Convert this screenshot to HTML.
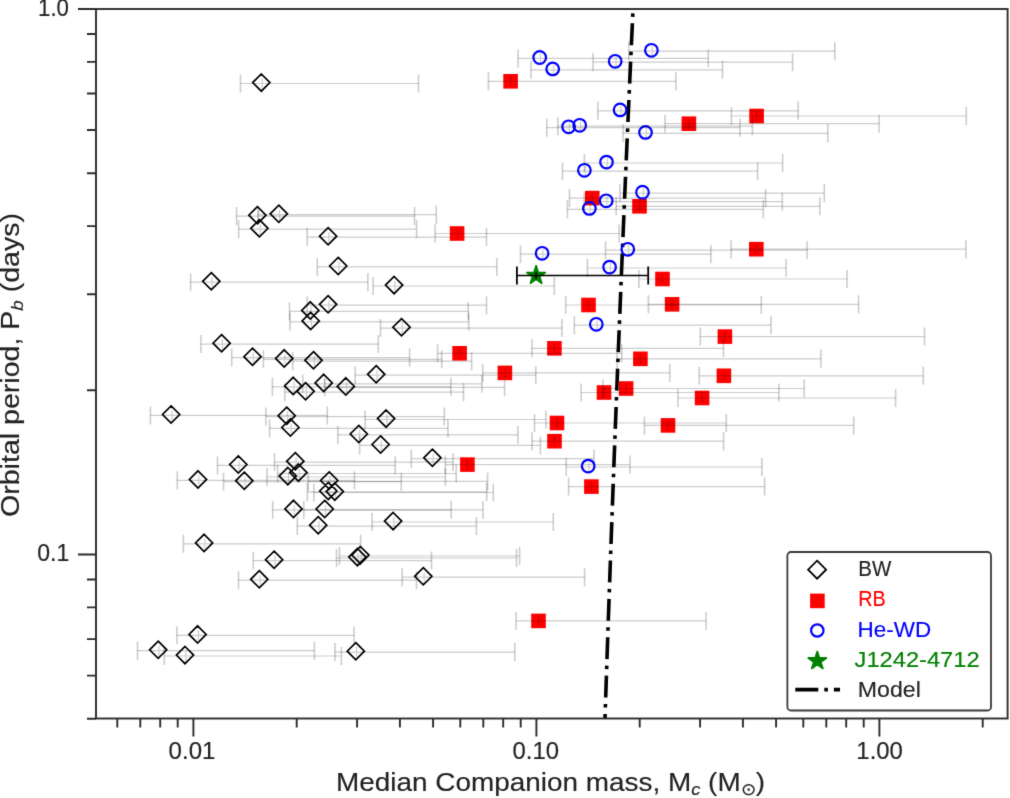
<!DOCTYPE html>
<html><head><meta charset="utf-8"><style>
html,body{margin:0;padding:0;background:#fff;}
body{width:1010px;height:798px;overflow:hidden;font-family:"Liberation Sans", sans-serif;}
svg{display:block;}
</style></head><body>
<svg width="1010" height="798" viewBox="0 0 1010 798"><defs><filter id="bl" color-interpolation-filters="sRGB" x="0" y="0" width="1010" height="798" filterUnits="userSpaceOnUse"><feConvolveMatrix order="3" kernelMatrix="0.01134 0.08382 0.01134 0.08382 0.61935 0.08382 0.01134 0.08382 0.01134" edgeMode="duplicate" preserveAlpha="true"/></filter></defs><g filter="url(#bl)"><rect width="1010" height="798" fill="#fff"/><defs><clipPath id="ax"><rect x="96.0" y="9.0" width="911.6" height="709.5"/></clipPath></defs><g clip-path="url(#ax)"><path d="M633.04 9 Q616.6 363.75 605.0 718.5" fill="none" stroke="#000" stroke-width="3.6" stroke-dasharray="22.0 6.4 3.6 6.4" stroke-dashoffset="24.1"/><path d="M261.3 74.0L269.9 82.6L261.3 91.2L252.7 82.6ZM257.4 206.6L266.0 215.2L257.4 223.8L248.8 215.2ZM278.8 205.2L287.4 213.8L278.8 222.4L270.2 213.8ZM259.4 219.7L268.0 228.3L259.4 236.9L250.8 228.3ZM328.1 227.6L336.7 236.2L328.1 244.8L319.5 236.2ZM338.2 257.4L346.8 266.0L338.2 274.6L329.6 266.0ZM211.3 272.7L219.9 281.3L211.3 289.9L202.7 281.3ZM394.1 276.5L402.7 285.1L394.1 293.7L385.5 285.1ZM328.1 295.7L336.7 304.3L328.1 312.9L319.5 304.3ZM310.3 301.8L318.9 310.4L310.3 319.0L301.7 310.4ZM310.7 312.3L319.3 320.9L310.7 329.5L302.1 320.9ZM401.5 318.6L410.1 327.2L401.5 335.8L392.9 327.2ZM221.6 334.6L230.2 343.2L221.6 351.8L213.0 343.2ZM252.5 348.1L261.1 356.7L252.5 365.3L243.9 356.7ZM284.2 349.8L292.8 358.4L284.2 367.0L275.6 358.4ZM313.5 351.7L322.1 360.3L313.5 368.9L304.9 360.3ZM376.2 365.7L384.8 374.3L376.2 382.9L367.6 374.3ZM323.7 374.3L332.3 382.9L323.7 391.5L315.1 382.9ZM293.2 377.3L301.8 385.9L293.2 394.5L284.6 385.9ZM345.8 377.8L354.4 386.4L345.8 395.0L337.2 386.4ZM305.6 382.7L314.2 391.3L305.6 399.9L297.0 391.3ZM171.1 405.9L179.7 414.5L171.1 423.1L162.5 414.5ZM286.7 407.1L295.3 415.7L286.7 424.3L278.1 415.7ZM386.1 410.0L394.7 418.6L386.1 427.2L377.5 418.6ZM290.4 418.9L299.0 427.5L290.4 436.1L281.8 427.5ZM358.8 425.4L367.4 434.0L358.8 442.6L350.2 434.0ZM380.6 435.9L389.2 444.5L380.6 453.1L372.0 444.5ZM432.4 449.2L441.0 457.8L432.4 466.4L423.8 457.8ZM238.3 455.9L246.9 464.5L238.3 473.1L229.7 464.5ZM295.3 452.6L303.9 461.2L295.3 469.8L286.7 461.2ZM298.4 464.0L307.0 472.6L298.4 481.2L289.8 472.6ZM287.8 467.5L296.4 476.1L287.8 484.7L279.2 476.1ZM198.0 470.8L206.6 479.4L198.0 488.0L189.4 479.4ZM244.3 472.2L252.9 480.8L244.3 489.4L235.7 480.8ZM329.2 471.9L337.8 480.5L329.2 489.1L320.6 480.5ZM328.3 482.4L336.9 491.0L328.3 499.6L319.7 491.0ZM334.8 483.0L343.4 491.6L334.8 500.2L326.2 491.6ZM293.5 500.3L302.1 508.9L293.5 517.5L284.9 508.9ZM324.7 500.4L333.3 509.0L324.7 517.6L316.1 509.0ZM318.2 516.6L326.8 525.2L318.2 533.8L309.6 525.2ZM393.1 512.5L401.7 521.1L393.1 529.7L384.5 521.1ZM204.1 534.3L212.7 542.9L204.1 551.5L195.5 542.9ZM357.4 548.5L366.0 557.1L357.4 565.7L348.8 557.1ZM360.4 546.5L369.0 555.1L360.4 563.7L351.8 555.1ZM274.1 551.1L282.7 559.7L274.1 568.3L265.5 559.7ZM423.3 567.7L431.9 576.3L423.3 584.9L414.7 576.3ZM259.3 570.7L267.9 579.3L259.3 587.9L250.7 579.3ZM197.6 625.8L206.2 634.4L197.6 643.0L189.0 634.4ZM158.2 641.2L166.8 649.8L158.2 658.4L149.6 649.8ZM185.0 646.5L193.6 655.1L185.0 663.7L176.4 655.1ZM355.8 642.6L364.4 651.2L355.8 659.8L347.2 651.2Z" fill="none" stroke="#000" stroke-width="1.7" stroke-linejoin="miter"/><g stroke="#000" stroke-opacity="0.2" fill="none"><path d="M240.5 83.5H418.5M262.1 78.5V88.5" stroke-width="1.2"/><path d="M240.5 74.5V92.5M418.5 74.5V92.5" stroke-width="1.6"/><path d="M236.6 216.1H414.5M258.2 211.1V221.1" stroke-width="1.2"/><path d="M236.6 207.1V225.1M414.5 207.1V225.1" stroke-width="1.6"/><path d="M258.0 214.7H436.3M279.6 209.7V219.7" stroke-width="1.2"/><path d="M258.0 205.7V223.7M436.3 205.7V223.7" stroke-width="1.6"/><path d="M238.6 229.2H416.6M260.2 224.2V234.2" stroke-width="1.2"/><path d="M238.6 220.2V238.2M416.6 220.2V238.2" stroke-width="1.6"/><path d="M307.2 237.1H486.5M328.9 232.1V242.1" stroke-width="1.2"/><path d="M307.2 228.1V246.1M486.5 228.1V246.1" stroke-width="1.6"/><path d="M317.3 266.9H496.8M339.0 261.9V271.9" stroke-width="1.2"/><path d="M317.3 257.9V275.9M496.8 257.9V275.9" stroke-width="1.6"/><path d="M190.6 282.2H367.9M212.1 277.2V287.2" stroke-width="1.2"/><path d="M190.6 273.2V291.2M367.9 273.2V291.2" stroke-width="1.6"/><path d="M373.1 286.0H554.3M394.9 281.0V291.0" stroke-width="1.2"/><path d="M373.1 277.0V295.0M554.3 277.0V295.0" stroke-width="1.6"/><path d="M307.2 305.2H486.5M328.9 300.2V310.2" stroke-width="1.2"/><path d="M307.2 296.2V314.2M486.5 296.2V314.2" stroke-width="1.6"/><path d="M289.5 311.3H468.3M311.1 306.3V316.3" stroke-width="1.2"/><path d="M289.5 302.3V320.3M468.3 302.3V320.3" stroke-width="1.6"/><path d="M289.9 321.8H468.7M311.5 316.8V326.8" stroke-width="1.2"/><path d="M289.9 312.8V330.8M468.7 312.8V330.8" stroke-width="1.6"/><path d="M380.5 328.1H561.9M402.3 323.1V333.1" stroke-width="1.2"/><path d="M380.5 319.1V337.1M561.9 319.1V337.1" stroke-width="1.6"/><path d="M200.9 344.1H378.3M222.4 339.1V349.1" stroke-width="1.2"/><path d="M200.9 335.1V353.1M378.3 335.1V353.1" stroke-width="1.6"/><path d="M231.7 357.6H409.6M253.3 352.6V362.6" stroke-width="1.2"/><path d="M231.7 348.6V366.6M409.6 348.6V366.6" stroke-width="1.6"/><path d="M263.4 359.3H441.7M285.0 354.3V364.3" stroke-width="1.2"/><path d="M263.4 350.3V368.3M441.7 350.3V368.3" stroke-width="1.6"/><path d="M292.7 361.2H471.6M314.3 356.2V366.2" stroke-width="1.2"/><path d="M292.7 352.2V370.2M471.6 352.2V370.2" stroke-width="1.6"/><path d="M355.2 375.2H535.8M377.0 370.2V380.2" stroke-width="1.2"/><path d="M355.2 366.2V384.2M535.8 366.2V384.2" stroke-width="1.6"/><path d="M302.8 383.8H482.0M324.5 378.8V388.8" stroke-width="1.2"/><path d="M302.8 374.8V392.8M482.0 374.8V392.8" stroke-width="1.6"/><path d="M272.4 386.8H450.9M294.0 381.8V391.8" stroke-width="1.2"/><path d="M272.4 377.8V395.8M450.9 377.8V395.8" stroke-width="1.6"/><path d="M324.9 387.3H504.6M346.6 382.3V392.3" stroke-width="1.2"/><path d="M324.9 378.3V396.3M504.6 378.3V396.3" stroke-width="1.6"/><path d="M284.8 392.2H463.5M306.4 387.2V397.2" stroke-width="1.2"/><path d="M284.8 383.2V401.2M463.5 383.2V401.2" stroke-width="1.6"/><path d="M150.4 415.4H327.3M171.9 410.4V420.4" stroke-width="1.2"/><path d="M150.4 406.4V424.4M327.3 406.4V424.4" stroke-width="1.6"/><path d="M265.9 416.6H444.3M287.5 411.6V421.6" stroke-width="1.2"/><path d="M265.9 407.6V425.6M444.3 407.6V425.6" stroke-width="1.6"/><path d="M365.1 419.5H546.0M386.9 414.5V424.5" stroke-width="1.2"/><path d="M365.1 410.5V428.5M546.0 410.5V428.5" stroke-width="1.6"/><path d="M269.6 428.4H448.0M291.2 423.4V433.4" stroke-width="1.2"/><path d="M269.6 419.4V437.4M448.0 419.4V437.4" stroke-width="1.6"/><path d="M337.9 434.9H517.9M359.6 429.9V439.9" stroke-width="1.2"/><path d="M337.9 425.9V443.9M517.9 425.9V443.9" stroke-width="1.6"/><path d="M359.6 445.4H540.4M381.4 440.4V450.4" stroke-width="1.2"/><path d="M359.6 436.4V454.4M540.4 436.4V454.4" stroke-width="1.6"/><path d="M411.3 458.7H594.1M433.2 453.7V463.7" stroke-width="1.2"/><path d="M411.3 449.7V467.7M594.1 449.7V467.7" stroke-width="1.6"/><path d="M217.5 465.4H395.2M239.1 460.4V470.4" stroke-width="1.2"/><path d="M217.5 456.4V474.4M395.2 456.4V474.4" stroke-width="1.6"/><path d="M274.5 462.1H453.0M296.1 457.1V467.1" stroke-width="1.2"/><path d="M274.5 453.1V471.1M453.0 453.1V471.1" stroke-width="1.6"/><path d="M277.6 473.5H456.2M299.2 468.5V478.5" stroke-width="1.2"/><path d="M277.6 464.5V482.5M456.2 464.5V482.5" stroke-width="1.6"/><path d="M267.0 477.0H445.4M288.6 472.0V482.0" stroke-width="1.2"/><path d="M267.0 468.0V486.0M445.4 468.0V486.0" stroke-width="1.6"/><path d="M177.3 480.3H354.5M198.8 475.3V485.3" stroke-width="1.2"/><path d="M177.3 471.3V489.3M354.5 471.3V489.3" stroke-width="1.6"/><path d="M223.5 481.7H401.3M245.1 476.7V486.7" stroke-width="1.2"/><path d="M223.5 472.7V490.7M401.3 472.7V490.7" stroke-width="1.6"/><path d="M308.3 481.4H487.6M330.0 476.4V486.4" stroke-width="1.2"/><path d="M308.3 472.4V490.4M487.6 472.4V490.4" stroke-width="1.6"/><path d="M307.4 491.9H486.7M329.1 486.9V496.9" stroke-width="1.2"/><path d="M307.4 482.9V500.9M486.7 482.9V500.9" stroke-width="1.6"/><path d="M313.9 492.5H493.3M335.6 487.5V497.5" stroke-width="1.2"/><path d="M313.9 483.5V501.5M493.3 483.5V501.5" stroke-width="1.6"/><path d="M272.7 509.8H451.2M294.3 504.8V514.8" stroke-width="1.2"/><path d="M272.7 500.8V518.8M451.2 500.8V518.8" stroke-width="1.6"/><path d="M303.8 509.9H483.0M325.5 504.9V514.9" stroke-width="1.2"/><path d="M303.8 500.9V518.9M483.0 500.9V518.9" stroke-width="1.6"/><path d="M297.3 526.1H476.4M319.0 521.1V531.1" stroke-width="1.2"/><path d="M297.3 517.1V535.1M476.4 517.1V535.1" stroke-width="1.6"/><path d="M372.1 522.0H553.3M393.9 517.0V527.0" stroke-width="1.2"/><path d="M372.1 513.0V531.0M553.3 513.0V531.0" stroke-width="1.6"/><path d="M183.4 543.8H360.6M204.9 538.8V548.8" stroke-width="1.2"/><path d="M183.4 534.8V552.8M360.6 534.8V552.8" stroke-width="1.6"/><path d="M336.5 558.0H516.5M358.2 553.0V563.0" stroke-width="1.2"/><path d="M336.5 549.0V567.0M516.5 549.0V567.0" stroke-width="1.6"/><path d="M339.5 556.0H519.6M361.2 551.0V561.0" stroke-width="1.2"/><path d="M339.5 547.0V565.0M519.6 547.0V565.0" stroke-width="1.6"/><path d="M253.3 560.6H431.5M274.9 555.6V565.6" stroke-width="1.2"/><path d="M253.3 551.6V569.6M431.5 551.6V569.6" stroke-width="1.6"/><path d="M402.2 577.2H584.6M424.1 572.2V582.2" stroke-width="1.2"/><path d="M402.2 568.2V586.2M584.6 568.2V586.2" stroke-width="1.6"/><path d="M238.5 580.2H416.5M260.1 575.2V585.2" stroke-width="1.2"/><path d="M238.5 571.2V589.2M416.5 571.2V589.2" stroke-width="1.6"/><path d="M176.9 635.3H354.1M198.4 630.3V640.3" stroke-width="1.2"/><path d="M176.9 626.3V644.3M354.1 626.3V644.3" stroke-width="1.6"/><path d="M137.5 650.7H314.4M159.0 645.7V655.7" stroke-width="1.2"/><path d="M137.5 641.7V659.7M314.4 641.7V659.7" stroke-width="1.6"/><path d="M164.3 656.0H341.4M185.8 651.0V661.0" stroke-width="1.2"/><path d="M164.3 647.0V665.0M341.4 647.0V665.0" stroke-width="1.6"/><path d="M334.9 652.1H514.8M356.6 647.1V657.1" stroke-width="1.2"/><path d="M334.9 643.1V661.1M514.8 643.1V661.1" stroke-width="1.6"/></g><g fill="#f00"><rect x="452.3" y="346.0" width="14.6" height="14.6"/><rect x="547.1" y="341.0" width="14.6" height="14.6"/><rect x="633.1" y="351.5" width="14.6" height="14.6"/><rect x="497.6" y="365.6" width="14.6" height="14.6"/><rect x="596.7" y="385.2" width="14.6" height="14.6"/><rect x="618.8" y="381.2" width="14.6" height="14.6"/><rect x="549.7" y="415.7" width="14.6" height="14.6"/><rect x="547.2" y="433.9" width="14.6" height="14.6"/><rect x="660.7" y="418.1" width="14.6" height="14.6"/><rect x="694.8" y="390.7" width="14.6" height="14.6"/><rect x="716.6" y="368.5" width="14.6" height="14.6"/><rect x="717.6" y="329.3" width="14.6" height="14.6"/><rect x="664.8" y="297.0" width="14.6" height="14.6"/><rect x="655.2" y="271.7" width="14.6" height="14.6"/><rect x="581.2" y="297.7" width="14.6" height="14.6"/><rect x="749.0" y="241.9" width="14.6" height="14.6"/><rect x="449.8" y="226.2" width="14.6" height="14.6"/><rect x="585.0" y="190.8" width="14.6" height="14.6"/><rect x="632.2" y="199.0" width="14.6" height="14.6"/><rect x="503.3" y="74.0" width="14.6" height="14.6"/><rect x="749.3" y="108.7" width="14.6" height="14.6"/><rect x="681.6" y="116.4" width="14.6" height="14.6"/><rect x="460.1" y="457.3" width="14.6" height="14.6"/><rect x="584.1" y="479.3" width="14.6" height="14.6"/><rect x="531.2" y="613.6" width="14.6" height="14.6"/></g><g stroke="#000" stroke-opacity="0.2" fill="none"><path d="M437.6 353.3H621.7M459.6 348.3V358.3" stroke-width="1.2"/><path d="M437.6 344.3V362.3M621.7 344.3V362.3" stroke-width="1.6"/><path d="M531.9 348.3H723.5M554.4 343.3V353.3" stroke-width="1.2"/><path d="M531.9 339.3V357.3M723.5 339.3V357.3" stroke-width="1.6"/><path d="M617.1 358.8H820.9M640.4 353.8V363.8" stroke-width="1.2"/><path d="M617.1 349.8V367.8M820.9 349.8V367.8" stroke-width="1.6"/><path d="M482.7 372.9H669.8M504.9 367.9V377.9" stroke-width="1.2"/><path d="M482.7 363.9V381.9M669.8 363.9V381.9" stroke-width="1.6"/><path d="M581.1 392.5H778.9M604.0 387.5V397.5" stroke-width="1.2"/><path d="M581.1 383.5V401.5M778.9 383.5V401.5" stroke-width="1.6"/><path d="M603.0 388.5H804.2M626.1 383.5V393.5" stroke-width="1.2"/><path d="M603.0 379.5V397.5M804.2 379.5V397.5" stroke-width="1.6"/><path d="M534.5 423.0H726.3M557.0 418.0V428.0" stroke-width="1.2"/><path d="M534.5 414.0V432.0M726.3 414.0V432.0" stroke-width="1.6"/><path d="M532.0 441.2H723.6M554.5 436.2V446.2" stroke-width="1.2"/><path d="M532.0 432.2V450.2M723.6 432.2V450.2" stroke-width="1.6"/><path d="M644.4 425.4H853.7M668.0 420.4V430.4" stroke-width="1.2"/><path d="M644.4 416.4V434.4M853.7 416.4V434.4" stroke-width="1.6"/><path d="M677.9 398.0H895.6M702.1 393.0V403.0" stroke-width="1.2"/><path d="M677.9 389.0V407.0M895.6 389.0V407.0" stroke-width="1.6"/><path d="M699.3 375.8H923.3M723.9 370.8V380.8" stroke-width="1.2"/><path d="M699.3 366.8V384.8M923.3 366.8V384.8" stroke-width="1.6"/><path d="M700.3 336.6H924.5M724.9 331.6V341.6" stroke-width="1.2"/><path d="M700.3 327.6V345.6M924.5 327.6V345.6" stroke-width="1.6"/><path d="M648.4 304.3H858.6M672.1 299.3V309.3" stroke-width="1.2"/><path d="M648.4 295.3V313.3M858.6 295.3V313.3" stroke-width="1.6"/><path d="M638.9 279.0H847.0M662.5 274.0V284.0" stroke-width="1.2"/><path d="M638.9 270.0V288.0M847.0 270.0V288.0" stroke-width="1.6"/><path d="M565.7 305.0H761.3M588.5 300.0V310.0" stroke-width="1.2"/><path d="M565.7 296.0V314.0M761.3 296.0V314.0" stroke-width="1.6"/><path d="M731.1 249.2H965.9M756.3 244.2V254.2" stroke-width="1.2"/><path d="M731.1 240.2V258.2M965.9 240.2V258.2" stroke-width="1.6"/><path d="M435.1 233.5H619.1M457.1 228.5V238.5" stroke-width="1.2"/><path d="M435.1 224.5V242.5M619.1 224.5V242.5" stroke-width="1.6"/><path d="M569.5 198.1H765.6M592.3 193.1V203.1" stroke-width="1.2"/><path d="M569.5 189.1V207.1M765.6 189.1V207.1" stroke-width="1.6"/><path d="M616.2 206.3H819.8M639.5 201.3V211.3" stroke-width="1.2"/><path d="M616.2 197.3V215.3M819.8 197.3V215.3" stroke-width="1.6"/><path d="M488.4 81.3H675.9M510.6 76.3V86.3" stroke-width="1.2"/><path d="M488.4 72.3V90.3M675.9 72.3V90.3" stroke-width="1.6"/><path d="M731.4 116.0H966.3M756.6 111.0V121.0" stroke-width="1.2"/><path d="M731.4 107.0V125.0M966.3 107.0V125.0" stroke-width="1.6"/><path d="M665.0 123.7H879.1M688.9 118.7V128.7" stroke-width="1.2"/><path d="M665.0 114.7V132.7M879.1 114.7V132.7" stroke-width="1.6"/><path d="M445.4 464.6H630.0M467.4 459.6V469.6" stroke-width="1.2"/><path d="M445.4 455.6V473.6M630.0 455.6V473.6" stroke-width="1.6"/><path d="M568.6 486.6H764.6M591.4 481.6V491.6" stroke-width="1.2"/><path d="M568.6 477.6V495.6M764.6 477.6V495.6" stroke-width="1.6"/><path d="M516.1 620.9H706.1M538.5 615.9V625.9" stroke-width="1.2"/><path d="M516.1 611.9V629.9M706.1 611.9V629.9" stroke-width="1.6"/></g><g fill="none" stroke="#00f" stroke-width="2.2"><circle cx="539.7" cy="57.5" r="6.3"/><circle cx="552.7" cy="68.9" r="6.3"/><circle cx="651.4" cy="50.3" r="6.3"/><circle cx="615.2" cy="61.3" r="6.3"/><circle cx="620.1" cy="109.9" r="6.3"/><circle cx="568.6" cy="126.8" r="6.3"/><circle cx="579.7" cy="125.3" r="6.3"/><circle cx="645.5" cy="132.4" r="6.3"/><circle cx="606.5" cy="162.1" r="6.3"/><circle cx="584.4" cy="170.3" r="6.3"/><circle cx="606.2" cy="200.8" r="6.3"/><circle cx="589.4" cy="208.4" r="6.3"/><circle cx="642.5" cy="192.2" r="6.3"/><circle cx="542.1" cy="253.3" r="6.3"/><circle cx="627.8" cy="249.3" r="6.3"/><circle cx="609.6" cy="267.1" r="6.3"/><circle cx="596.3" cy="324.3" r="6.3"/><circle cx="588.2" cy="466.1" r="6.3"/></g><g stroke="#000" stroke-opacity="0.2" fill="none"><path d="M518.1 58.4H708.3M540.5 53.4V63.4" stroke-width="1.2"/><path d="M518.1 49.4V67.4M708.3 49.4V67.4" stroke-width="1.6"/><path d="M531.0 69.8H722.5M553.5 64.8V74.8" stroke-width="1.2"/><path d="M531.0 60.8V78.8M722.5 60.8V78.8" stroke-width="1.6"/><path d="M628.8 51.2H834.8M652.2 46.2V56.2" stroke-width="1.2"/><path d="M628.8 42.2V60.2M834.8 42.2V60.2" stroke-width="1.6"/><path d="M593.0 62.2H792.6M616.0 57.2V67.2" stroke-width="1.2"/><path d="M593.0 53.2V71.2M792.6 53.2V71.2" stroke-width="1.6"/><path d="M597.8 110.8H798.2M620.9 105.8V115.8" stroke-width="1.2"/><path d="M597.8 101.8V119.8M798.2 101.8V119.8" stroke-width="1.6"/><path d="M546.8 127.7H740.0M569.4 122.7V132.7" stroke-width="1.2"/><path d="M546.8 118.7V136.7M740.0 118.7V136.7" stroke-width="1.6"/><path d="M557.8 126.2H752.4M580.5 121.2V131.2" stroke-width="1.2"/><path d="M557.8 117.2V135.2M752.4 117.2V135.2" stroke-width="1.6"/><path d="M623.0 133.3H827.8M646.3 128.3V138.3" stroke-width="1.2"/><path d="M623.0 124.3V142.3M827.8 124.3V142.3" stroke-width="1.6"/><path d="M584.4 163.0H782.6M607.3 158.0V168.0" stroke-width="1.2"/><path d="M584.4 154.0V172.0M782.6 154.0V172.0" stroke-width="1.6"/><path d="M562.5 171.2H757.6M585.2 166.2V176.2" stroke-width="1.2"/><path d="M562.5 162.2V180.2M757.6 162.2V180.2" stroke-width="1.6"/><path d="M584.1 201.7H782.3M607.0 196.7V206.7" stroke-width="1.2"/><path d="M584.1 192.7V210.7M782.3 192.7V210.7" stroke-width="1.6"/><path d="M567.4 209.3H763.3M590.2 204.3V214.3" stroke-width="1.2"/><path d="M567.4 200.3V218.3M763.3 200.3V218.3" stroke-width="1.6"/><path d="M620.0 193.1H824.3M643.3 188.1V198.1" stroke-width="1.2"/><path d="M620.0 184.1V202.1M824.3 184.1V202.1" stroke-width="1.6"/><path d="M520.5 254.2H710.9M542.9 249.2V259.2" stroke-width="1.2"/><path d="M520.5 245.2V263.2M710.9 245.2V263.2" stroke-width="1.6"/><path d="M605.5 250.2H807.1M628.6 245.2V255.2" stroke-width="1.2"/><path d="M605.5 241.2V259.2M807.1 241.2V259.2" stroke-width="1.6"/><path d="M587.4 268.0H786.1M610.4 263.0V273.0" stroke-width="1.2"/><path d="M587.4 259.0V277.0M786.1 259.0V277.0" stroke-width="1.6"/><path d="M574.3 325.2H771.0M597.1 320.2V330.2" stroke-width="1.2"/><path d="M574.3 316.2V334.2M771.0 316.2V334.2" stroke-width="1.6"/><path d="M566.2 467.0H761.9M589.0 462.0V472.0" stroke-width="1.2"/><path d="M566.2 458.0V476.0M761.9 458.0V476.0" stroke-width="1.6"/></g><rect x="629.6" y="47" width="4.2" height="3.3" fill="#fff"/><polygon points="536.10,265.30 538.39,272.35 545.80,272.35 539.81,276.70 542.10,283.75 536.10,279.40 530.10,283.75 532.39,276.70 526.40,272.35 533.81,272.35" fill="#008000" stroke="#008000" stroke-width="1.4" stroke-linejoin="bevel"/><g stroke="#000" fill="none"><path d="M516.9 275.5H648.2M536.1 271.7V279.3" stroke-width="1.4"/><path d="M516.9 266.5V284.5M648.2 266.5V284.5" stroke-width="1.8"/></g></g><path d="M78.0 9.0H96.0M78.0 554.5H96.0M87.0 718.8H96.0M87.0 675.6H96.0M87.0 639.1H96.0M87.0 607.4H96.0M87.0 579.5H96.0M87.0 390.3H96.0M87.0 294.3H96.0M87.0 226.1H96.0M87.0 173.2H96.0M87.0 130.0H96.0M87.0 93.5H96.0M87.0 61.9H96.0M87.0 34.0H96.0M193.4 718.5V736.5M536.4 718.5V736.5M879.4 718.5V736.5M117.3 718.5V727.5M140.3 718.5V727.5M160.2 718.5V727.5M177.7 718.5V727.5M296.7 718.5V727.5M357.1 718.5V727.5M399.9 718.5V727.5M433.1 718.5V727.5M460.3 718.5V727.5M483.3 718.5V727.5M503.2 718.5V727.5M520.7 718.5V727.5M639.7 718.5V727.5M700.1 718.5V727.5M742.9 718.5V727.5M776.1 718.5V727.5M803.3 718.5V727.5M826.3 718.5V727.5M846.2 718.5V727.5M863.7 718.5V727.5M982.7 718.5V727.5" stroke="#2b2b2b" stroke-width="1.9" fill="none"/><rect x="96.0" y="9.0" width="911.6" height="709.5" fill="none" stroke="#2b2b2b" stroke-width="1.9"/><g font-family='"Liberation Sans", sans-serif'><text x="53.5" y="16.2" font-size="23" text-anchor="middle" fill="#222" stroke="#222" stroke-width="0.15" textLength="31" lengthAdjust="spacingAndGlyphs">1.0</text><text x="53.3" y="561.4" font-size="23" text-anchor="middle" fill="#222" stroke="#222" stroke-width="0.15" textLength="32" lengthAdjust="spacingAndGlyphs">0.1</text><text x="192.0" y="758.5" font-size="23" text-anchor="middle" fill="#222" stroke="#222" stroke-width="0.15" textLength="46.8" lengthAdjust="spacingAndGlyphs">0.01</text><text x="535.8" y="758.5" font-size="23" text-anchor="middle" fill="#222" stroke="#222" stroke-width="0.15" textLength="46.5" lengthAdjust="spacingAndGlyphs">0.10</text><text x="879.6" y="758.5" font-size="23" text-anchor="middle" fill="#222" stroke="#222" stroke-width="0.15" textLength="46.5" lengthAdjust="spacingAndGlyphs">1.00</text><text x="336" y="790.9" font-size="26" fill="#222" stroke="#222" stroke-width="0.15" textLength="429" lengthAdjust="spacingAndGlyphs">Median Companion mass, M<tspan font-size="17" font-style="italic" dy="4">c</tspan><tspan dy="-4"> (M</tspan><tspan font-size="17" dy="4">⊙</tspan><tspan dy="-4">)</tspan></text><text transform="translate(19.2,517) rotate(-90)" x="0" y="0" font-size="26" fill="#222" stroke="#222" stroke-width="0.15" textLength="304" lengthAdjust="spacingAndGlyphs">Orbital period, P<tspan font-size="17" font-style="italic" dy="4">b</tspan><tspan dy="-4"> (days)</tspan></text></g><rect x="787.4" y="552.0" width="203.60000000000002" height="158.5" rx="3.5" fill="#fff" fill-opacity="0.8" stroke="#3a3a3a" stroke-width="1.8"/><path d="M817.1 560.7L826.1 569.7L817.1 578.7L808.1 569.7Z" fill="none" stroke="#000" stroke-width="1.8" stroke-linejoin="miter"/><g fill="#f00"><rect x="810.1" y="593.6" width="14.6" height="14.6"/></g><g fill="none" stroke="#00f" stroke-width="2.2"><circle cx="817.3" cy="630.5" r="6.2"/></g><polygon points="817.30,650.90 819.55,657.81 826.81,657.81 820.93,662.08 823.18,668.99 817.30,664.72 811.42,668.99 813.67,662.08 807.79,657.81 815.05,657.81" fill="#008000" stroke="#008000" stroke-width="1.4" stroke-linejoin="bevel"/><line x1="795.3" y1="689.6" x2="840" y2="689.6" stroke="#000" stroke-width="3.6" stroke-dasharray="23.0 6.0 3.6 6.0"/><g font-family='"Liberation Sans", sans-serif' font-size="21"><text x="858.3" y="576.3" font-size="22.5" text-anchor="start" fill="#222" stroke="#222" stroke-width="0.15" textLength="33.0" lengthAdjust="spacingAndGlyphs">BW</text><text x="858.3" y="606.3" font-size="22.5" text-anchor="start" fill="#f00" stroke="#f00" stroke-width="0.15" textLength="27.5" lengthAdjust="spacingAndGlyphs">RB</text><text x="857.6" y="636.6" font-size="22.5" text-anchor="start" fill="#00f" stroke="#00f" stroke-width="0.15" textLength="73.5" lengthAdjust="spacingAndGlyphs">He-WD</text><text x="854.6" y="666.8" font-size="22.5" text-anchor="start" fill="#008000" stroke="#008000" stroke-width="0.15" textLength="125" lengthAdjust="spacingAndGlyphs">J1242-4712</text><text x="857.8" y="697.0" font-size="22.5" text-anchor="start" fill="#222" stroke="#222" stroke-width="0.15" textLength="63" lengthAdjust="spacingAndGlyphs">Model</text></g></g></svg>
</body></html>
